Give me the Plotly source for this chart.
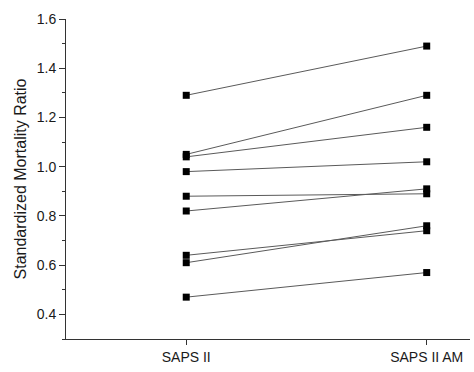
import plotly.graph_objects as go

categories = ["SAPS II", "SAPS II AM"]
saps_ii = [1.29, 1.05, 1.04, 0.98, 0.88, 0.82, 0.64, 0.61, 0.47]
saps_ii_am = [1.49, 1.29, 1.16, 1.02, 0.89, 0.91, 0.74, 0.76, 0.57]
y_ticks = [0.4, 0.6, 0.8, 1.0, 1.2, 1.4, 1.6]

xpos = [1, 2]
fig = go.Figure()
for a, b in zip(saps_ii, saps_ii_am):
    fig.add_trace(go.Scatter(
        x=xpos, y=[a, b], mode="lines+markers",
        line=dict(color="#5a5a5a", width=1),
        marker=dict(symbol="square", size=7, color="black"),
        showlegend=False, hoverinfo="skip", cliponaxis=False))

font = "Liberation Sans, Arial, sans-serif"
fig.update_layout(
    width=474, height=372,
    margin=dict(l=66, r=4, t=19, b=33),
    paper_bgcolor="white", plot_bgcolor="white",
    font=dict(family=font, size=14, color="#1a1a1a"),
    xaxis=dict(range=[0.5, 2.18], tickvals=xpos, ticktext=categories,
               automargin=False,
               showline=True, linecolor="#333333", linewidth=1,
               ticks="outside", ticklen=5, tickcolor="#333333",
               showgrid=False, zeroline=False, fixedrange=True),
    yaxis=dict(range=[0.3, 1.6], tickvals=y_ticks,
               ticktext=[f"{v:.1f}" for v in y_ticks],
               automargin=False,
               showline=True, linecolor="#333333", linewidth=1,
               ticks="outside", ticklen=6, tickcolor="#333333",
               minor=dict(tickvals=[0.3, 0.5, 0.7, 0.9, 1.1, 1.3, 1.5],
                          ticks="outside", ticklen=3, tickcolor="#333333"),
               showgrid=False, zeroline=False,
               title=dict(text="Standardized Mortality Ratio",
                          font=dict(size=16), standoff=6)),
)
fig.write_html("out.html", config={"displayModeBar": False},
               post_script="document.body.style.margin='0';document.body.style.overflow='hidden';")
